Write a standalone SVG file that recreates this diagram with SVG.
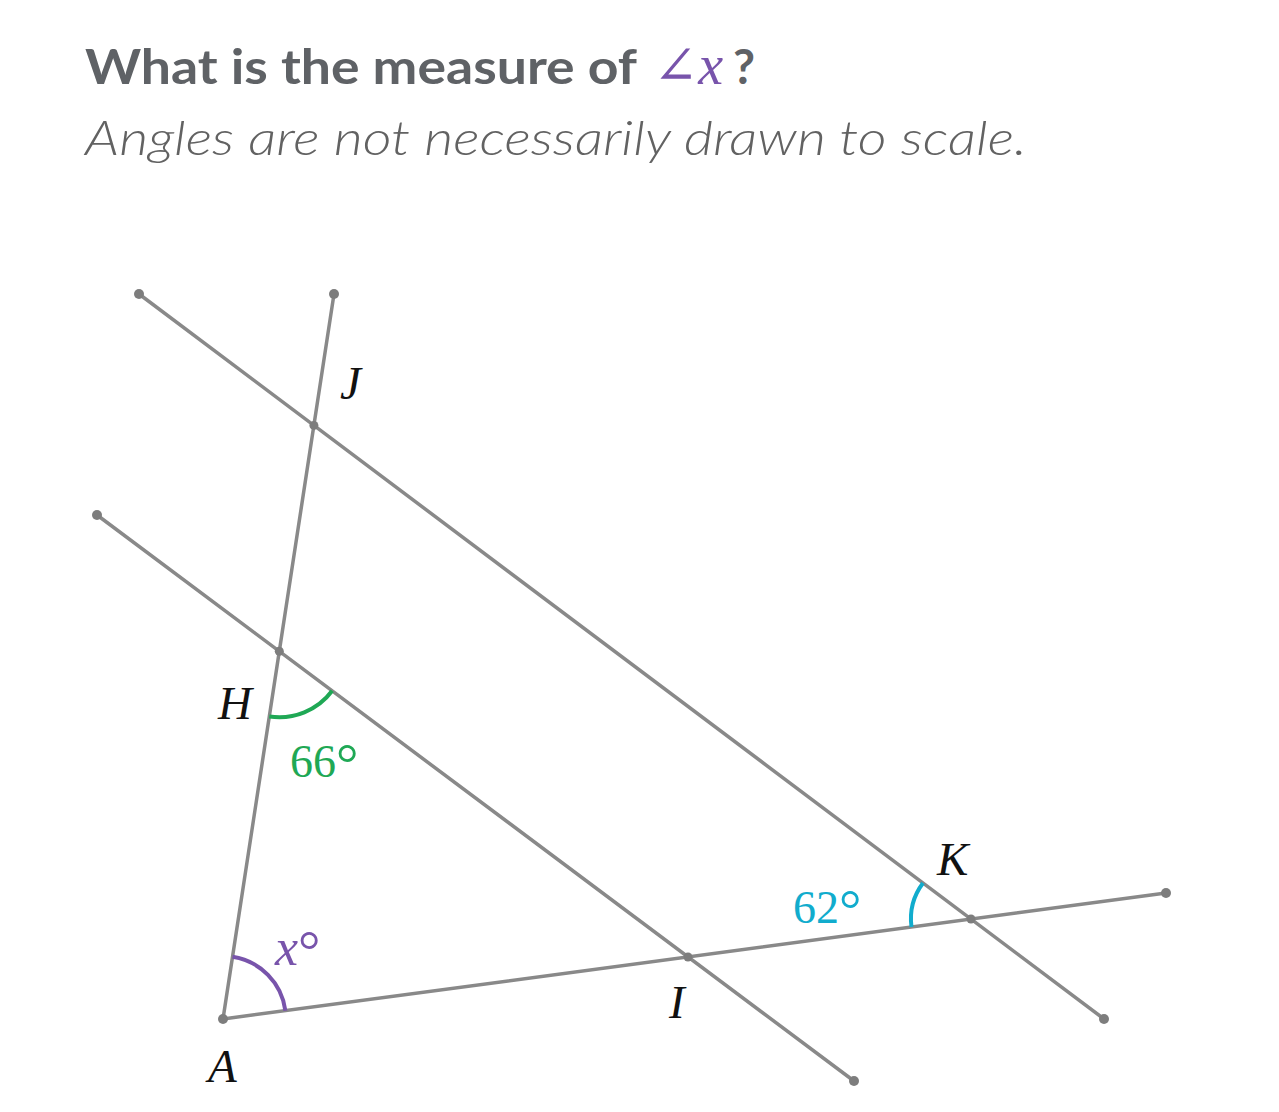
<svg xmlns="http://www.w3.org/2000/svg" width="1279" height="1112" viewBox="0 0 1279 1112">
<style>
.title{font-family:Lato,"Open Sans","Liberation Sans",sans-serif;font-weight:700;font-size:48px;fill:#5f6266}
.sub{font-family:Lato,"Open Sans","Liberation Sans",sans-serif;font-weight:300;font-style:italic;font-size:48px;fill:#626262}
.ln{stroke:#898989;stroke-width:3.5;fill:none;stroke-linecap:round}
.dot{fill:#7d7d7d}
.lbl{font-family:"Liberation Serif","DejaVu Serif",serif;font-style:italic;font-size:47px;fill:#111}
.num{font-family:"Liberation Serif","DejaVu Serif",serif;font-size:46px}
.deg{font-style:normal;font-size:56px}
.arc{fill:none;stroke-width:4}
</style>
<rect width="1279" height="1112" fill="#ffffff"/>
<g id="title">
<text class="title" x="85" y="84" textLength="552" lengthAdjust="spacingAndGlyphs">What is the measure of</text>
<text x="653" y="84" font-family="'Liberation Serif','DejaVu Serif',serif" font-size="54" fill="#7854ab">∠<tspan font-style="italic" font-size="56">x</tspan></text>
<text class="title" x="733" y="84">?</text>
</g>
<g id="subtitle">
<text class="sub" x="85" y="155" textLength="942" lengthAdjust="spacingAndGlyphs">Angles are not necessarily drawn to scale.</text>
</g>
<g id="connectors">
<line class="ln" x1="223" y1="1019" x2="334" y2="294"/>
<line class="ln" x1="139" y1="294" x2="1104" y2="1019"/>
<line class="ln" x1="97" y1="515" x2="854" y2="1081"/>
<line class="ln" x1="223" y1="1019" x2="1166" y2="893"/>
</g>
<g id="angles">
<path class="arc" stroke="#1fa855" d="M269.3 716.5 A66 66 0 0 0 332.2 690.8"/>
<path class="arc" stroke="#7854ab" d="M232.5 956.7 A63 63 0 0 1 285.4 1010.7"/>
<path class="arc" stroke="#11accd" d="M923 883 A60 60 0 0 0 911.5 926.9"/>
</g>
<g id="points">
<circle class="dot" cx="334" cy="294" r="5"/>
<circle class="dot" cx="139" cy="294" r="5"/>
<circle class="dot" cx="97" cy="515" r="5"/>
<circle class="dot" cx="1104" cy="1019" r="5"/>
<circle class="dot" cx="854" cy="1081" r="5"/>
<circle class="dot" cx="1166" cy="893" r="5"/>
<circle class="dot" cx="223" cy="1019" r="5"/>
</g>
<g id="node-J"><circle class="dot" cx="313.9" cy="425.4" r="4.5"/><text class="lbl" x="340" y="399">J</text></g>
<g id="node-H"><circle class="dot" cx="279.3" cy="651.3" r="4.5"/><text class="lbl" x="218" y="719">H</text></g>
<g id="node-I"><circle class="dot" cx="688" cy="957" r="4.5"/><text class="lbl" x="669" y="1018">I</text></g>
<g id="node-K"><circle class="dot" cx="971" cy="919" r="4.5"/><text class="lbl" x="937" y="875">K</text></g>
<g id="node-A"><text class="lbl" x="208" y="1082">A</text></g>
<g id="labels">
<text class="num" x="290" y="777" fill="#1fa855">66<tspan class="deg" dy="6">°</tspan></text>
<text class="num" x="793" y="923" fill="#11accd">62<tspan class="deg" dy="6">°</tspan></text>
<text class="lbl" x="275" y="965" style="fill:#7854ab;font-size:52px">x<tspan class="deg" font-size="48" dy="5">°</tspan></text>
</g>
</svg>
